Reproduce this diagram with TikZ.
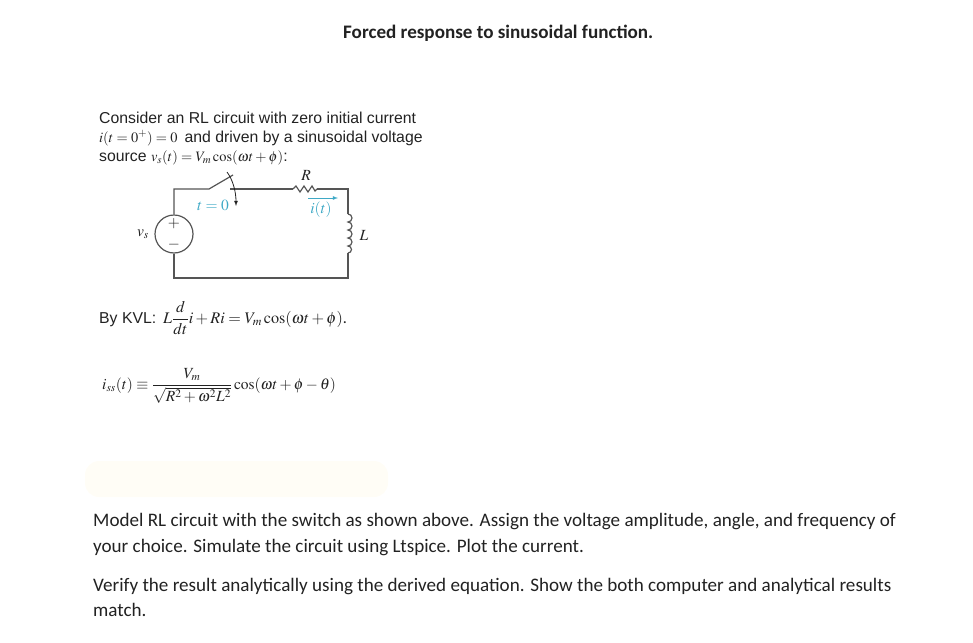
\documentclass[tikz,border=0pt]{standalone}
\usepackage{amsmath}
\usepackage{mathptmx}
\usepackage{fontspec}
\setmainfont{Carlito}
\newfontfamily\slidefont{Liberation Sans}
\newcommand{\inlinesize}{\fontsize{14.4}{17}\selectfont}
\definecolor{inkgray}{HTML}{222222}
\definecolor{wiregray}{HTML}{555555}
\definecolor{currentblue}{HTML}{3FA9C6}
\definecolor{smudge}{HTML}{FFFDF6}
\tikzset{
  pagetext/.style={anchor=base west, inner sep=0pt, text=inkgray, font=\fontsize{19.1}{22}\selectfont},
  slidetext/.style={anchor=base west, inner sep=0pt, text=inkgray, font=\slidefont\fontsize{15.8}{18}\selectfont},
  mathtext/.style={anchor=base west, inner sep=0pt, text=inkgray, font=\fontsize{16.2}{19}\selectfont},
  wire/.style={draw=wiregray, line width=1.2pt},
  partlabel/.style={inner sep=0pt, text=inkgray, font=\fontsize{15.5}{18}\selectfont}
}
\begin{document}
\begin{tikzpicture}[x=1pt,y=-1pt]
  \useasboundingbox (0,0) rectangle (973,642);
  \fill[smudge, rounded corners=14pt] (85,461) rectangle (388,497);
  \node[pagetext, font=\bfseries\fontsize{19.1}{22}\selectfont] (title) at (343,38) {Forced response to sinusoidal function.};
  \node[slidetext] (line1) at (99,123) {Consider an RL circuit with zero initial current};
  \node[slidetext] (line2) at (99,142) {{\inlinesize\(i(t=0^{+})=0\)}\, and driven by a sinusoidal voltage};
  \node[slidetext] (line3) at (99,161) {source {\inlinesize\(v_{s}(t)=V_{m}\cos(\omega t+\phi)\)}:};
  \node[slidetext] (kvl) at (99,323) {By KVL:};
  \node[mathtext] (kvleq) at (163,323) {\(L\dfrac{d}{dt}i+Ri=V_{m}\cos(\omega t+\phi)\).};
  \node[mathtext, font=\fontsize{15.5}{18}\selectfont] (iss) at (102,389) {\(i_{ss}(t)\equiv\dfrac{V_{m}}{\sqrt{R^{2}+\omega^{2}L^{2}}}\cos(\omega t+\phi-\theta)\)};
  \node[pagetext] (task1) at (93,526) {Model RL circuit with the switch as shown above. Assign the voltage amplitude, angle, and frequency of};
  \node[pagetext] (task2) at (93,552) {your choice. Simulate the circuit using Ltspice. Plot the current.};
  \node[pagetext] (task3) at (93,591) {Verify the result analytically using the derived equation. Show the both computer and analytical results};
  \node[pagetext] (task4) at (93,616) {match.};
  \node[circle, wire, fill=white, minimum size=38pt, inner sep=0pt] (vs) at (174,234) {};
  \node[partlabel] (plus) at (174,224) {\(+\)};
  \node[partlabel] (minus) at (174,245) {\(-\)};
  \node[partlabel] (vslabel) at (143,234) {\(v_{s}\)};
  \node[partlabel] (rlabel) at (306,175) {\(R\)};
  \node[partlabel] (llabel) at (364,235) {\(L\)};
  \node[partlabel, text=currentblue] (tlabel) at (213,205) {\(t=0\)};
  \node[partlabel, text=currentblue] (ilabel) at (321,210) {\(i(t)\)};
  \coordinate (tl) at (174,189);
  \coordinate (swa) at (209,189);
  \coordinate (swb) at (233,175);
  \coordinate (swc) at (230,189);
  \coordinate (ra) at (293,189);
  \coordinate (rb) at (317,189);
  \coordinate (tr) at (348,189);
  \coordinate (la) at (348,214);
  \coordinate (lb) at (348,253);
  \coordinate (br) at (348,278);
  \coordinate (bl) at (174,278);
  \coordinate (ia) at (308,198);
  \coordinate (ib) at (338,198);
  \draw[wire] (vs) -- (tl) -- (swa) -- (swb);
  \draw[wire] (swc) -- (ra);
  \draw[wire] (ra) -- ++(3,-3) -- ++(4,6) -- ++(4,-6) -- ++(4,6) -- ++(4,-6) -- ++(3,5) -- (rb);
  \draw[wire] (rb) -- (tr) -- (la);
  \draw[wire] (la) arc[start angle=90, end angle=-90, radius=4pt] arc[start angle=90, end angle=-90, radius=4pt]
    arc[start angle=90, end angle=-90, radius=4pt] arc[start angle=90, end angle=-90, radius=4pt]
    arc[start angle=90, end angle=-90, radius=3.5pt];
  \draw[wire] (lb) -- (br) -- (bl) -- (vs);
  \draw[-latex, line width=0.8pt, inkgray] (227,172) .. controls (233,180) and (236,192) .. (236,206);
  \draw[-latex, line width=0.8pt, currentblue] (ia) -- (ib);
\end{tikzpicture}
\end{document}
